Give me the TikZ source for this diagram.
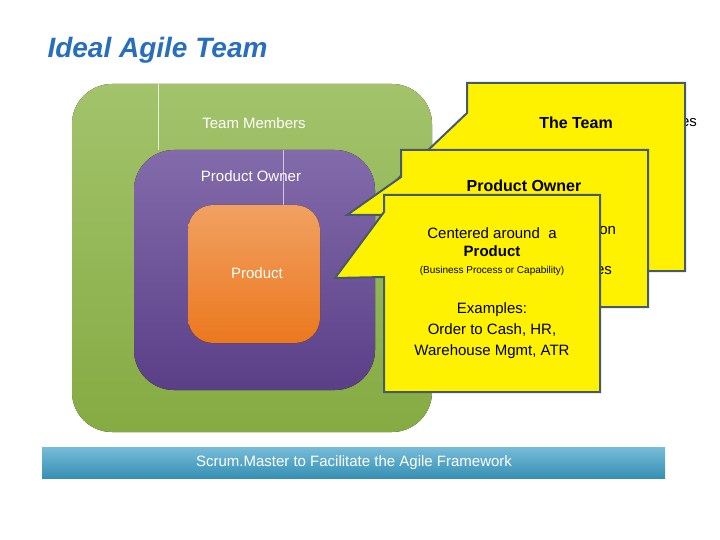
\documentclass[tikz,border=0pt]{standalone}
\usepackage{fontspec}
\setmainfont{Liberation Sans}
\definecolor{agileblue}{RGB}{40,110,190}
\definecolor{teamgreen}{RGB}{140,180,70}
\definecolor{ownerpurple}{RGB}{100,70,150}
\definecolor{prodorange}{RGB}{235,120,30}
\definecolor{calloutedge}{RGB}{70,90,110}
\definecolor{barblue}{RGB}{60,160,200}
\begin{document}
\begin{tikzpicture}[%
            x=1pt, y=-1pt,
            layer/.style={rounded corners=40pt},
            mycallout/.style={fill=yellow, draw=calloutedge, line width=2pt, line join=miter},
            mytext/.style={font=\fontsize{15}{17}\selectfont, inner sep=0pt},
            boxtext/.style={font=\fontsize{15}{18}\selectfont, align=center, inner sep=0pt}
    ]
        \useasboundingbox (0,0) rectangle (720,540);
        \node [anchor=west, text=agileblue, font=\fontsize{28}{30}\selectfont\bfseries\itshape] (title) at (44,50) {Ideal Agile Team};

        % nested team layers
        \fill [layer, top color=teamgreen!80, bottom color=teamgreen!95!black] (72,84) rectangle (432,432);
        \draw [white!80!teamgreen, thin] (158,84) -- (158,150);
        \fill [layer, top color=ownerpurple!80, bottom color=ownerpurple!90!black] (134,150) rectangle (375,390);
        \draw [white!70!ownerpurple, thin] (283,150) -- (283,205);
        \fill [rounded corners=25pt, top color=prodorange!70, bottom color=prodorange] (188,205) rectangle (320,343);

        \node [mytext, text=white] (members) at (254,123) {Team Members};
        \node [mytext, text=white] (owner) at (251,176) {Product Owner};
        \node [mytext, text=white] (product) at (257,273) {Product};

        % callouts
        \node [mytext] (rest1) at (689,123) {es};
        \filldraw [mycallout] (467,83) -- (685,83) -- (685,271) -- (467,271) -- (467,200) -- (360,215) -- (467,113) -- cycle;
        \node [boxtext, font=\fontsize{16}{18}\selectfont\bfseries] (team) at (576,123) {The Team};

        \filldraw [mycallout] (401,150) -- (648,150) -- (648,307) -- (401,307) -- (401,215) -- (347,215) -- (401,177) -- cycle;
        \node [boxtext, font=\fontsize{16}{18}\selectfont\bfseries] (ownerhead) at (524,186) {Product Owner};
        \node [mytext] (rest2) at (606,229) {ion};
        \node [mytext] (rest3) at (604,271) {es};

        \filldraw [mycallout] (384,195) -- (600,195) -- (600,392) -- (384,392) -- (384,277) -- (335,278) -- (384,212) -- cycle;
        \node [boxtext] (centered) at (492,242) {Centered around\ \ a\\\textbf{Product}};
        \node [boxtext, font=\fontsize{10}{12}\selectfont] (process) at (492,271) {(Business Process or Capability)};
        \node [boxtext, font=\fontsize{15}{21}\selectfont] (examples) at (492,331) {Examples:\\Order to Cash, HR,\\Warehouse Mgmt, ATR};

        % scrum master bar
        \fill [top color=barblue!70, bottom color=barblue!90!black] (42,447) rectangle (665,478);
        \node [mytext, text=white] (scrum) at (354,463) {Scrum.Master to Facilitate the Agile Framework};
    \end{tikzpicture}
\end{document}
